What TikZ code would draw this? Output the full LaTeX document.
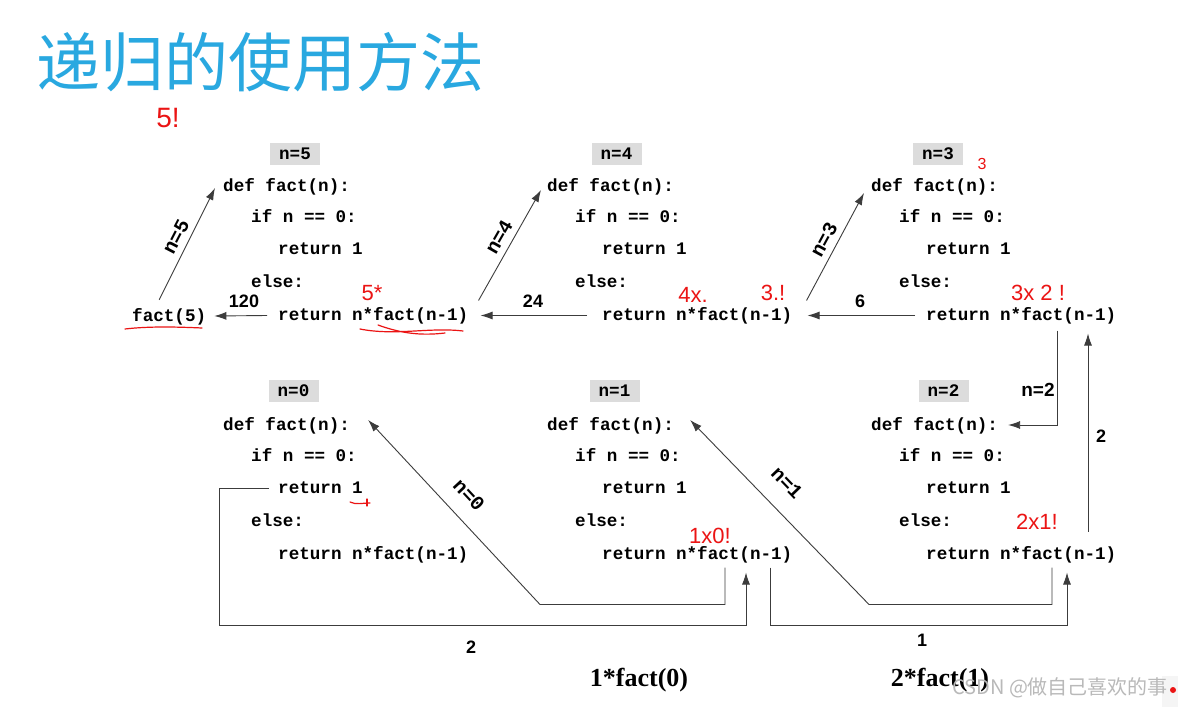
\documentclass[tikz,border=0pt]{standalone}
\usepackage{fontspec}
\setmainfont{Liberation Serif}
\newfontfamily\codefont{Liberation Mono}
\newfontfamily\numfont{Liberation Sans}
\newfontfamily\cjkfont{Noto Sans CJK SC}
\usetikzlibrary{arrows.meta,calc}
\definecolor{titleblue}{RGB}{41,168,224}
\definecolor{lblgray}{RGB}{220,220,220}
\definecolor{linegray}{RGB}{60,60,60}
\definecolor{handred}{RGB}{235,20,20}
\tikzset{
  code/.style={font=\codefont\bfseries\fontsize{17.6}{20}\selectfont, anchor=west, inner sep=0pt, text height=10pt, text depth=0pt},
  lbl/.style={font=\codefont\bfseries\fontsize{17.6}{20}\selectfont, fill=lblgray, minimum width=50pt, minimum height=22pt, inner sep=0pt},
  conn/.style={draw=linegray, line width=0.9pt, -{Latex[length=12pt,width=8pt]}},
  num/.style={font=\numfont\bfseries\fontsize{18}{20}\selectfont, inner sep=0pt},
  rlbl/.style={font=\codefont\bfseries\fontsize{20}{24}\selectfont, inner sep=0pt},
  hand/.style={text=handred, font=\numfont\fontsize{22}{24}\selectfont, inner sep=0pt},
  redline/.style={draw=handred, line width=1.2pt, line cap=round},
}
\newcommand\factblock[5]{% id, x of def, y of def, label x, label y
  \node[lbl] (L#1) at (#4,#5) {n=#1};
  \node[code] (d#1) at (#2,#3) {def fact(n):};
  \node[code] (i#1) at (#2+28,#3+31.5) {if n == 0:};
  \node[code] (o#1) at (#2+55,#3+63.5) {return 1};
  \node[code] (e#1) at (#2+28,#3+96.5) {else:};
  \node[code] (r#1) at (#2+55,#3+129.5) {return n*fact(n-1)};
}
\begin{document}
\begin{tikzpicture}[x=1pt,y=-1pt]
\useasboundingbox (0,0) rectangle (1178,707);
\fill[white] (0,0) rectangle (1178,707);

% title
\node[anchor=west, inner sep=0pt, text=titleblue, font=\cjkfont\fontsize{64}{72}\selectfont] (title) at (36,62) {递归的使用方法};

% code blocks
\factblock{5}{223}{186}{295}{154}
\factblock{4}{547}{186}{616.5}{154}
\factblock{3}{871}{186}{938}{154}
\factblock{0}{223}{425}{293.5}{391}
\factblock{1}{547}{425}{614.5}{391}
\factblock{2}{871}{425}{943.5}{391}

\node[code] (f5) at (132,316) {fact(5)};

% upper row connectors
\draw[conn] ([shift={(-10,-11)}]f5.north) -- ([shift={(-8,2)}]d5.west);
\node[rlbl, rotate=62.6] (ln5) at (176,237) {n=5};
\draw[conn] ([shift={(-11,0)}]r5.west) -- ([shift={(8,0)}]f5.east);
\node[num] (v120) at (244,301) {120};

\draw[conn] ([shift={(10,-15)}]r5.east) -- ([shift={(-6,4)}]d4.west);
\node[rlbl, rotate=60.2] (ln4) at (499,237) {n=4};
\draw[conn] ([shift={(-15,0)}]r4.west) -- ([shift={(12,0)}]r5.east);
\node[num] (v24) at (533,301) {24};

\draw[conn] ([shift={(14,-15)}]r4.east) -- ([shift={(-7,7)}]d3.west);
\node[rlbl, rotate=61.5] (ln3) at (824,240) {n=3};
\draw[conn] ([shift={(-11,0)}]r3.west) -- ([shift={(15,0)}]r4.east);
\node[num] (v6) at (860,301) {6};

% right side
\draw[conn] ([shift={(131,15)}]r3.west) |- ([shift={(10,0)}]d2.east);
\node[num, font=\numfont\bfseries\fontsize{19}{20}\selectfont] (ln2) at (1038,390) {n=2};
\draw[conn] ([shift={(162,-23)}]r2.west) -- ([shift={(162,18)}]r3.west);
\node[num] (v2a) at (1101,436) {2};

% lower row
\draw[conn] ([shift={(126,13)}]r2.west) -- ++(0,37) -- ++(-183,0) -- ([shift={(16,-5)}]d1.east);
\node[rlbl, rotate=-46.1] (ln1) at (787,483) {n=1};
\draw[conn] ([shift={(123,13)}]r1.west) -- ++(0,37) -- ++(-185,0) -- ([shift={(18,-5)}]d0.east);
\node[rlbl, rotate=-47.1] (ln0) at (469,495) {n=0};

\draw[conn] ([shift={(-9,0)}]o0.west) -- ++(-50,0) -- ++(0,137) -| ([shift={(144,18)}]r1.west);
\node[num] (v2b) at (471,647) {2};
\draw[conn] ([shift={(168,13)}]r1.west) -- ++(0,58) -| ([shift={(141,18)}]r2.west);
\node[num] (v1) at (922,640) {1};

% bottom captions
\node[font=\bfseries\fontsize{26}{30}\selectfont, inner sep=0pt] (cap1) at (639,680) {1*fact(0)};
\node[font=\bfseries\fontsize{26}{30}\selectfont, inner sep=0pt] (cap2) at (940,680) {2*fact(1)};

% handwritten annotations
\node[hand, font=\numfont\fontsize{28}{30}\selectfont] (h5f) at (168,118) {5!};
\node[hand] (h5x) at (372,293) {5*};
\node[hand] (h4x) at (693,295) {4x.};
\node[hand] (h3f) at (773,293) {3.!};
\node[hand, font=\numfont\fontsize{16}{18}\selectfont] (h3) at (982,164) {3};
\node[hand] (h32) at (1038,293) {3x 2 !};
\node[hand] (h10) at (710,536) {1x0!};
\node[hand] (h21) at (1037,522) {2x1!};
\draw[redline] (125,329) .. controls (150,326) and (180,327) .. (202,328);
\draw[redline] (360,329) .. controls (395,336) and (430,327) .. (463,331);
\draw[redline] (378,325) .. controls (400,333) and (420,336) .. (445,333);
\draw[redline] (350,502) .. controls (356,505) and (362,503) .. (370,503);
\draw[redline] (367,499) -- (367,506);

% watermark
\fill[gray!8] (1162,676) rectangle (1178,707);
\fill[handred] (1173,690) circle (3);
\node[anchor=west, inner sep=0pt, text=gray!55, font=\cjkfont\fontsize{20}{24}\selectfont] (wm) at (952,688) {CSDN @做自己喜欢的事};
\end{tikzpicture}
\end{document}
